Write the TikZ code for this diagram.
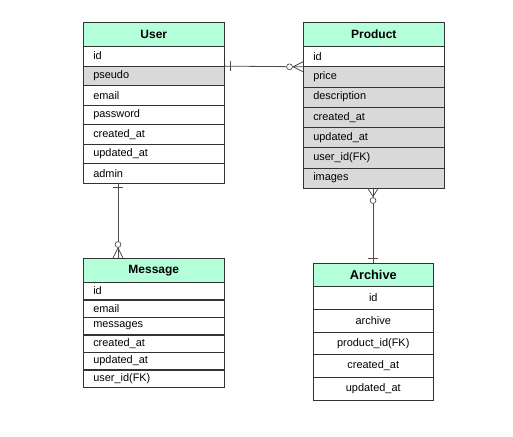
\documentclass[tikz,border=0pt]{standalone}
\usepackage{fontspec}
\setmainfont{Liberation Sans}
\usetikzlibrary{calc}
\definecolor{headgreen}{RGB}{179,255,217}
\definecolor{rowgray}{RGB}{217,217,217}

\begin{document}
\begin{tikzpicture}[x=0.75pt,y=-0.75pt,
  head/.style={draw=black!80,fill=headgreen,minimum width=#1,minimum height=18pt,
    anchor=north west,inner sep=0pt,font=\bfseries\fontsize{9}{10}\selectfont},
  row/.style={draw=black!80,anchor=north west,inner xsep=7.5pt,inner ysep=0pt,
    text width=90.75pt,align=left,minimum height=#1,font=\fontsize{8.2}{9}\selectfont},
  crow/.style={draw=black!80,anchor=north west,inner sep=0pt,text width=90pt,
    align=center,minimum height=#1,font=\fontsize{8.2}{9}\selectfont},
  link/.style={draw=black!70,line width=0.6pt},
  ring/.style={draw=black!70,fill=white,line width=0.5pt}]
\useasboundingbox (0,0) rectangle (513,436);

\node [head=105.75pt] (user0) at (83,22) {User};
\foreach \t/\f [count=\i] in {id/white,pseudo/rowgray,email/white,password/white,
    created\_at/white,updated\_at/white,admin/white}
  \node [row=14.7pt,fill=\f] (user\i) at (83,{46+19.57*(\i-1)}) {\t};

\node [head=105.75pt] (product0) at (303,22) {Product};
\foreach \t/\f [count=\i] in {id/white,price/rowgray,description/rowgray,
    created\_at/rowgray,updated\_at/rowgray,user\_id(FK)/rowgray,images/rowgray}
  \node [row=15.2pt,fill=\f] (product\i) at (303,{46+20.29*(\i-1)}) {\t};

\node [head=105.75pt] (message0) at (83,258) {Message};
\foreach \t [count=\i] in {id,email,messages,created\_at,updated\_at,user\_id(FK)}
  \node [row=13.1pt,fill=white] (message\i) at (83,{282+17.5*(\i-1)}) {\t};

\node [head=90pt,font=\bfseries\fontsize{9.6}{10}\selectfont] (archive0) at (313,263) {Archive};
\foreach \t [count=\i] in {id,archive,product\_id(FK),created\_at,updated\_at}
  \node [crow=17.1pt,fill=white] (archive\i) at (313,{286+22.8*(\i-1)}) {\t};

\draw [link] (user1.south east) -- (product1.south west);
\draw [link] ($(user1.south east)+(6,-5)$) -- ++(0,10);
\draw [link] ($(product1.south west)+(-10,0)$) -- ++(10,-5)
  ($(product1.south west)+(-10,0)$) -- ++(10,5);
\draw [ring] ($(product1.south west)+(-13.5,0)$) circle [radius=2.2pt];

\coordinate (um1) at ($(user7.south west)+(35,0)$);
\coordinate (um2) at ($(message0.north west)+(35,0)$);
\draw [link] (um1) -- (um2);
\draw [link] ($(um1)+(-5,4)$) -- ++(10,0);
\draw [link] ($(um2)+(0,-10)$) -- ++(-5,10) ($(um2)+(0,-10)$) -- ++(5,10);
\draw [ring] ($(um2)+(0,-13.5)$) circle [radius=2.2pt];

\coordinate (pa1) at ($(product7.south west)+(70,0)$);
\coordinate (pa2) at ($(archive0.north west)+(60,0)$);
\draw [link] (pa1) -- (pa2);
\draw [link] ($(pa1)+(0,8)$) -- ++(-5,-8) ($(pa1)+(0,8)$) -- ++(5,-8);
\draw [ring] ($(pa1)+(0,12)$) circle [radius=2.2pt];
\draw [link] ($(pa2)+(-5,-5)$) -- ++(10,0);
\end{tikzpicture}
\end{document}
